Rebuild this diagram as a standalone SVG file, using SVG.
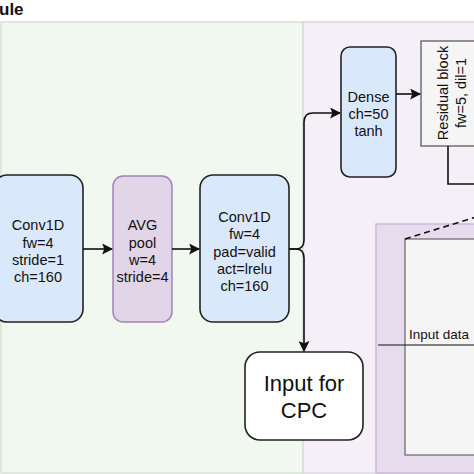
<svg xmlns="http://www.w3.org/2000/svg" width="474" height="474" viewBox="0 0 474 474">
<defs>
<style>
text{font-family:"Liberation Sans",Arial,sans-serif;fill:#111;}
.t14{font-size:14.5px;text-anchor:middle;}
.node{stroke:#222;stroke-width:1.6;}
.blue{fill:#dae8fc;}
.conn{fill:none;stroke:#111;stroke-width:1.6;}
</style>
<marker id="arrL" viewBox="0 0 10 10" refX="9" refY="5" markerWidth="11" markerHeight="11" orient="auto" markerUnits="userSpaceOnUse">
<path d="M0,0 L10,5 L0,10 L2,5 z" fill="#111"/>
</marker>
</defs>
<rect width="474" height="474" fill="#ffffff"/>
<text x="-1" y="15" style="font-size:17px;font-weight:bold">ule</text>
<g id="panels">
<rect x="1" y="22" width="302" height="451" fill="#f1f8f0" stroke="#d3e3d0" stroke-width="1.5"/>
<rect x="303" y="22" width="173" height="451" fill="#f5f0f7" stroke="#ddd6e0" stroke-width="1.5"/>
<rect x="376" y="224" width="100" height="249" fill="#e6dced" stroke="#cdb9d8" stroke-width="1.5"/>
<rect x="405" y="239" width="75" height="216" fill="#f5f5f5" stroke="#666" stroke-width="1.2"/>
<line x1="405" y1="239" x2="476" y2="217" stroke="#111" stroke-width="1.6" stroke-dasharray="6,4"/>
</g>
<g id="conv1">
<rect class="node blue" x="-6" y="175" width="89" height="147" rx="13"/>
<text class="t14" x="38" y="230">Conv1D</text>
<text class="t14" x="38" y="248">fw=4</text>
<text class="t14" x="38" y="265">stride=1</text>
<text class="t14" x="38" y="282">ch=160</text>
</g>
<g id="avgpool">
<rect x="113" y="176" width="59" height="146" rx="10" fill="#e1d5e7" stroke="#a283b5" stroke-width="1.5"/>
<text class="t14" x="142.5" y="230">AVG</text>
<text class="t14" x="142.5" y="248">pool</text>
<text class="t14" x="142.5" y="265">w=4</text>
<text class="t14" x="142.5" y="282">stride=4</text>
</g>
<g id="conv2">
<rect class="node blue" x="200" y="175" width="89" height="147" rx="13"/>
<text class="t14" x="244.5" y="222">Conv1D</text>
<text class="t14" x="244.5" y="239">fw=4</text>
<text class="t14" x="244.5" y="257">pad=valid</text>
<text class="t14" x="244.5" y="274">act=lrelu</text>
<text class="t14" x="244.5" y="291">ch=160</text>
</g>
<g id="dense">
<rect class="node blue" x="341" y="47" width="55" height="130" rx="9"/>
<text class="t14" x="368.5" y="102">Dense</text>
<text class="t14" x="368.5" y="119">ch=50</text>
<text class="t14" x="368.5" y="136">tanh</text>
</g>
<g id="residual">
<rect x="421" y="41" width="60" height="105" fill="#f5f5f5" stroke="#666" stroke-width="1.4"/>
<text class="t14" transform="translate(448,93) rotate(-90)">Residual block</text>
<text class="t14" transform="translate(466,93) rotate(-90)">fw=5, dil=1</text>
</g>
<g id="inputcpc">
<rect x="245" y="352" width="118" height="88" rx="15" fill="#ffffff" stroke="#222" stroke-width="1.6"/>
<text x="304" y="391" style="font-size:22px;text-anchor:middle">Input for</text>
<text x="304" y="418" style="font-size:22px;text-anchor:middle">CPC</text>
</g>
<g id="inputdata">
<text x="409" y="339" style="font-size:13.5px">Input data</text>
</g>
<g id="connectors">
<line class="conn" x1="83" y1="249" x2="112" y2="249" marker-end="url(#arrL)"/>
<line class="conn" x1="172" y1="249" x2="199" y2="249" marker-end="url(#arrL)"/>
<path class="conn" d="M289,249 H296 Q304,249 304,240 V122 Q304,113 313,113 H340" marker-end="url(#arrL)"/>
<path class="conn" d="M289,249 H296 Q304,249 304,258 V351" marker-end="url(#arrL)"/>
<line class="conn" x1="396" y1="94" x2="420" y2="94" marker-end="url(#arrL)"/>
<path class="conn" d="M448,146 V184 H476"/>
<line x1="378" y1="345" x2="476" y2="345" stroke="#111" stroke-width="1.2"/>
</g>
</svg>
